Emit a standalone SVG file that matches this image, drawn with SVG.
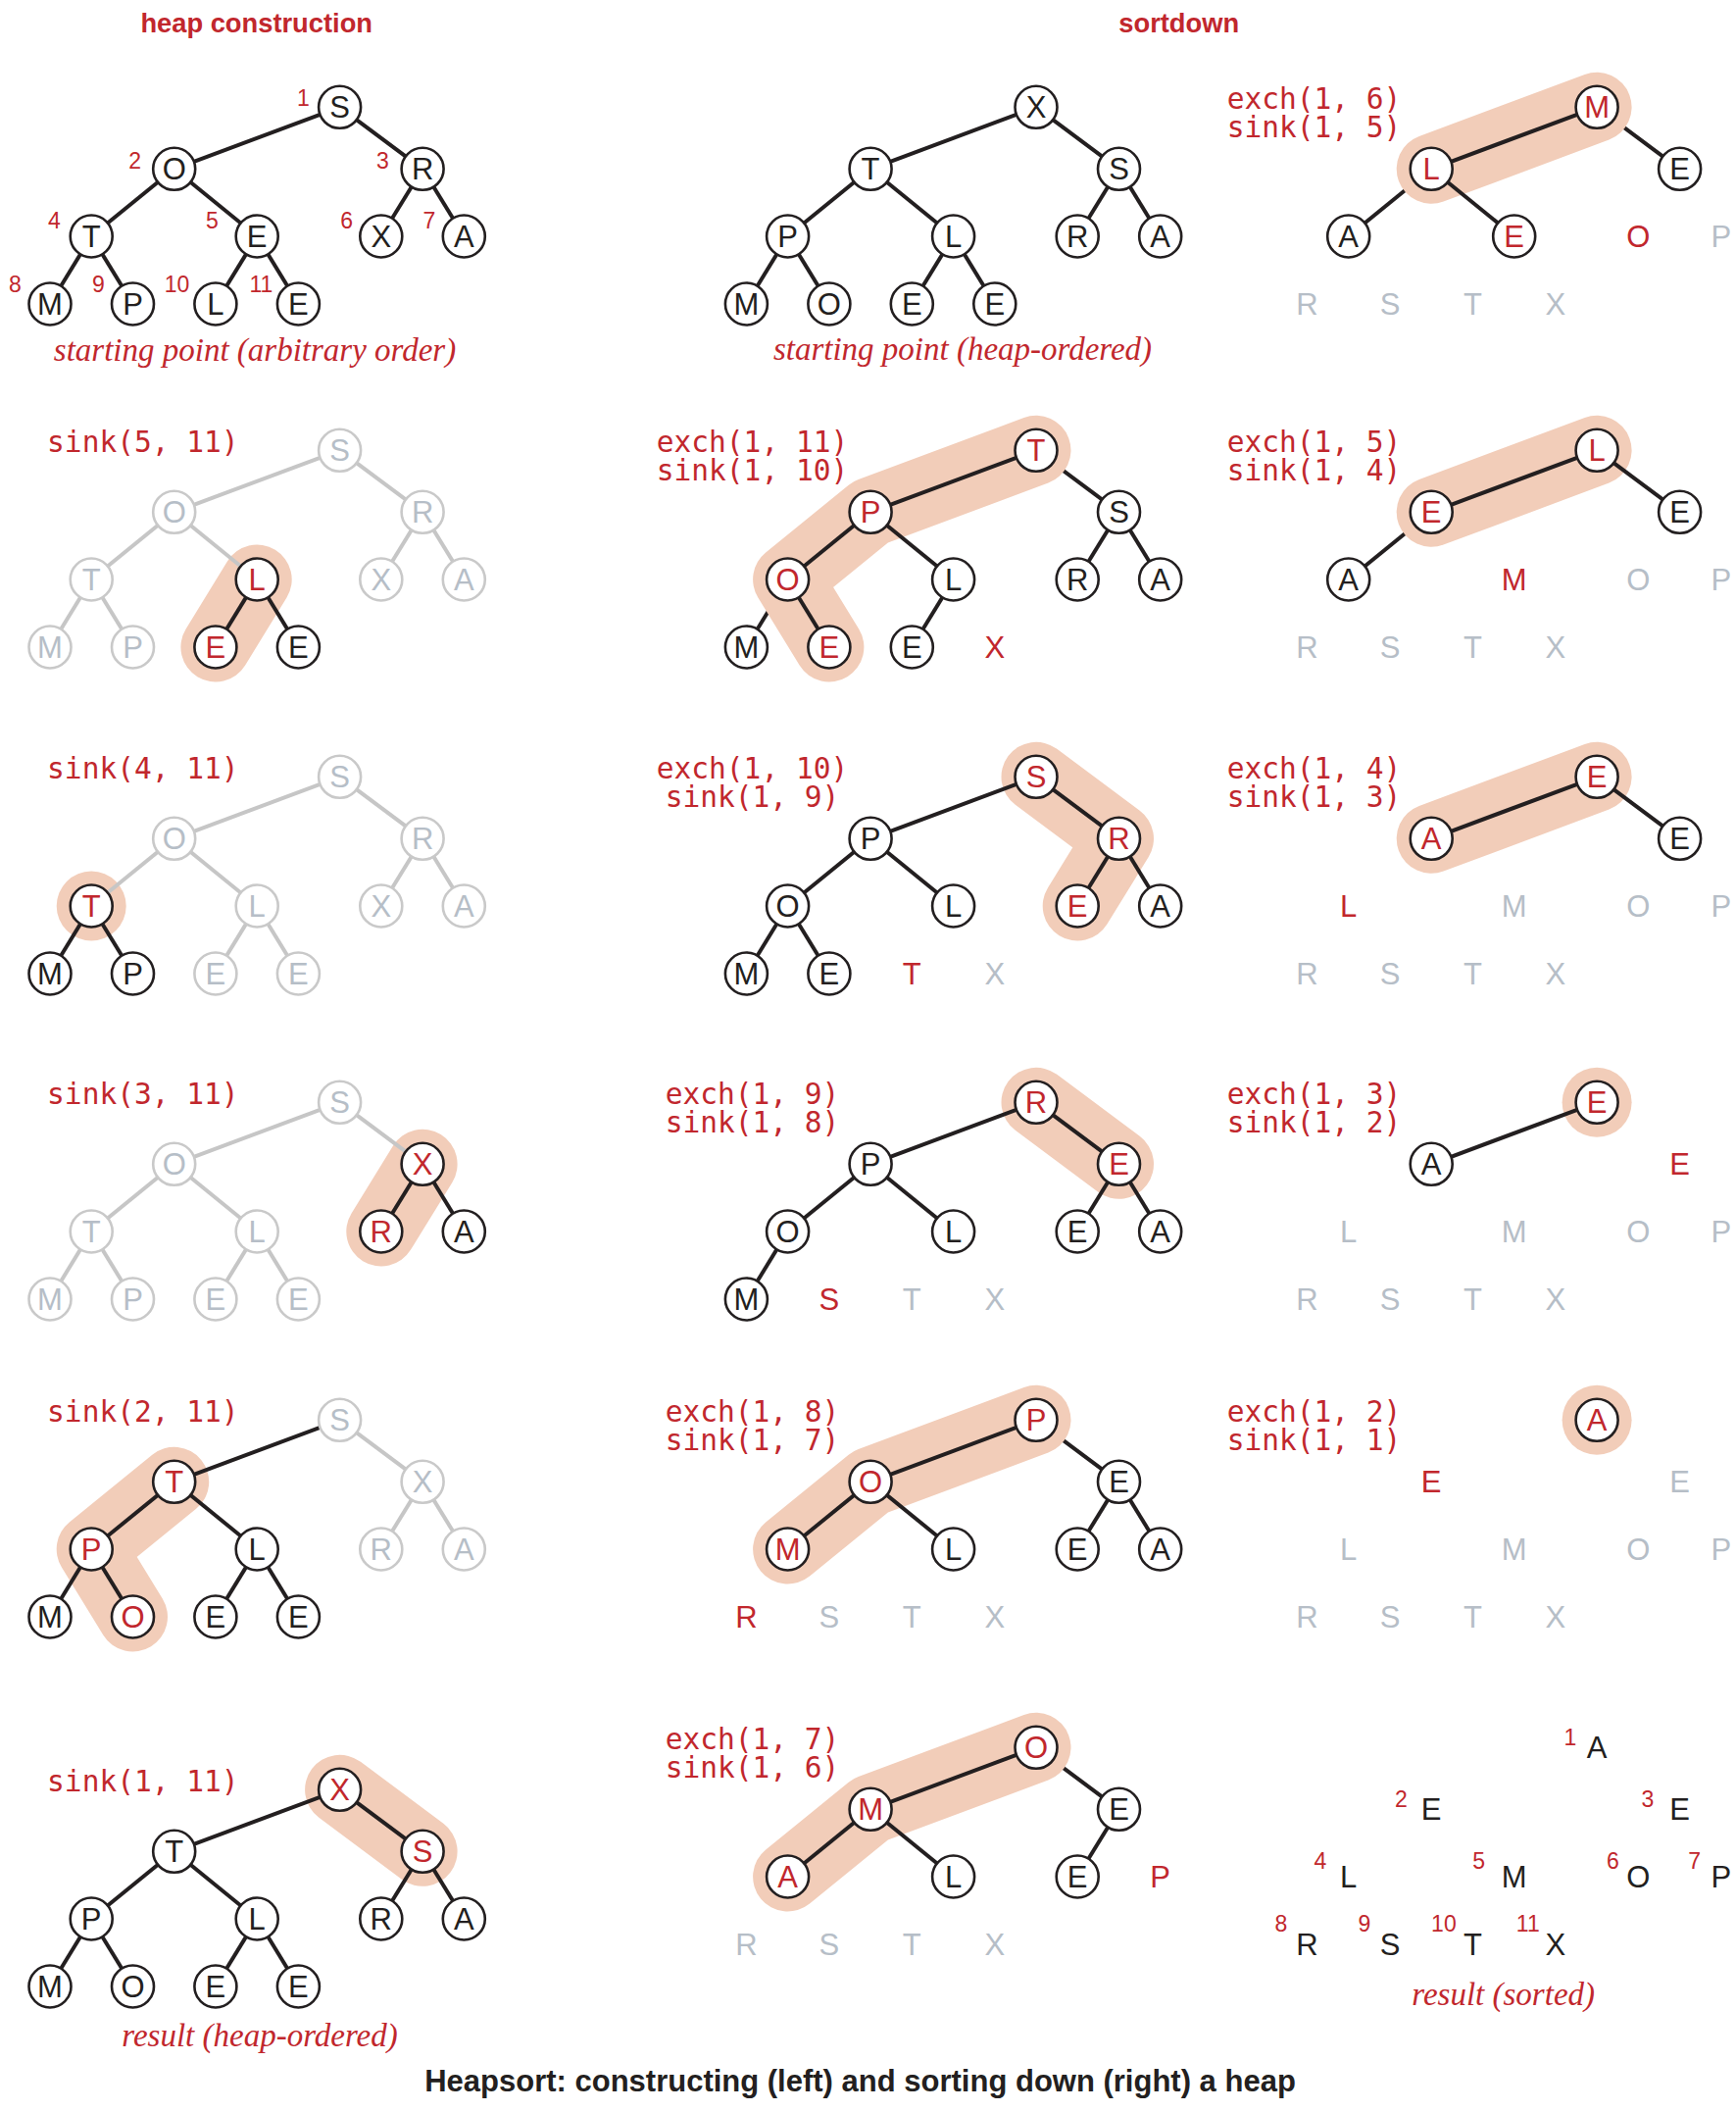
<svg xmlns="http://www.w3.org/2000/svg" width="1771" height="2153" viewBox="0 0 1771 2153">
<style>
.e{stroke:#231f20;stroke-width:4}
.eg{stroke:#c6c6c6;stroke-width:4}
.c{fill:#fff;stroke:#231f20;stroke-width:2.6}
.cg{fill:#fff;stroke:#c9c9c9;stroke-width:2.6}
.t{font-family:"Liberation Sans",Arial,sans-serif;font-size:31px;text-anchor:middle}
.k{fill:#231f20}
.r{fill:#c1272d}
.g{fill:#b6bec7}
.hl{fill:none;stroke:#f2cdb9;stroke-width:71;stroke-linecap:round;stroke-linejoin:round}
.hd{fill:#f2cdb9}
.num{font-family:"Liberation Sans",Arial,sans-serif;font-size:23px;fill:#c1272d;text-anchor:end}
.code{font-family:"DejaVu Sans Mono","Liberation Mono",monospace;font-size:29.5px;fill:#c1272d;text-anchor:middle}
.cap{font-family:"Liberation Serif","Times New Roman",serif;font-style:italic;font-size:33px;fill:#c1272d;text-anchor:middle}
.head{font-family:"Liberation Sans",Arial,sans-serif;font-weight:bold;font-size:27.3px;fill:#c1272d;text-anchor:middle}
.title{font-family:"Liberation Sans",Arial,sans-serif;font-weight:bold;font-size:31px;fill:#231f20;text-anchor:middle}
</style>
<rect width="1771" height="2153" fill="#fff"/>

<g id="labels">
<text class="head" x="261.7" y="33.3">heap construction</text>
<text class="head" x="1202.7" y="33.3">sortdown</text>
<text class="cap" x="260" y="368">starting point (arbitrary order)</text>
<text class="cap" x="982" y="367">starting point (heap-ordered)</text>
<text class="cap" x="265" y="2087">result (heap-ordered)</text>
<text class="cap" x="1533.7" y="2045">result (sorted)</text>
<text class="title" x="877.5" y="2133.3">Heapsort: constructing (left) and sorting down (right) a heap</text>
<text class="code" x="145.8" y="460.6">sink(5, 11)</text>
<text class="code" x="145.8" y="793.6">sink(4, 11)</text>
<text class="code" x="145.8" y="1125.6">sink(3, 11)</text>
<text class="code" x="145.8" y="1449.6">sink(2, 11)</text>
<text class="code" x="145.8" y="1826.6">sink(1, 11)</text>
<text class="code" x="767.5" y="460.6">exch(1, 11)</text>
<text class="code" x="767.5" y="490.1">sink(1, 10)</text>
<text class="code" x="767.5" y="793.6">exch(1, 10)</text>
<text class="code" x="767.5" y="823.1">sink(1, 9)</text>
<text class="code" x="767.5" y="1125.6">exch(1, 9)</text>
<text class="code" x="767.5" y="1155.1">sink(1, 8)</text>
<text class="code" x="767.5" y="1449.6">exch(1, 8)</text>
<text class="code" x="767.5" y="1479.1">sink(1, 7)</text>
<text class="code" x="767.5" y="1783.6">exch(1, 7)</text>
<text class="code" x="767.5" y="1813.1">sink(1, 6)</text>
<text class="code" x="1340.5" y="110.6">exch(1, 6)</text>
<text class="code" x="1340.5" y="140.1">sink(1, 5)</text>
<text class="code" x="1340.5" y="460.6">exch(1, 5)</text>
<text class="code" x="1340.5" y="490.1">sink(1, 4)</text>
<text class="code" x="1340.5" y="793.6">exch(1, 4)</text>
<text class="code" x="1340.5" y="823.1">sink(1, 3)</text>
<text class="code" x="1340.5" y="1125.6">exch(1, 3)</text>
<text class="code" x="1340.5" y="1155.1">sink(1, 2)</text>
<text class="code" x="1340.5" y="1449.6">exch(1, 2)</text>
<text class="code" x="1340.5" y="1479.1">sink(1, 1)</text>
</g>

<!-- LEFT ROW 1 -->
<g id="L1" transform="translate(51,109.3)">
<g id="L1-edges">
<line class="e" x1="295.6" y1="0" x2="126.7" y2="63"/>
<line class="e" x1="295.6" y1="0" x2="380.1" y2="63"/>
<line class="e" x1="126.7" y1="63" x2="42.2" y2="131.7"/>
<line class="e" x1="126.7" y1="63" x2="211.2" y2="131.7"/>
<line class="e" x1="380.1" y1="63" x2="337.8" y2="131.7"/>
<line class="e" x1="380.1" y1="63" x2="422.3" y2="131.7"/>
<line class="e" x1="42.2" y1="131.7" x2="0" y2="200.7"/>
<line class="e" x1="42.2" y1="131.7" x2="84.5" y2="200.7"/>
<line class="e" x1="211.2" y1="131.7" x2="168.9" y2="200.7"/>
<line class="e" x1="211.2" y1="131.7" x2="253.4" y2="200.7"/>
</g>
<g id="L1-n1"><circle class="c" cx="295.6" cy="0" r="21.5"/><text class="t k" x="295.6" y="11">S</text></g>
<g id="L1-n2"><circle class="c" cx="126.7" cy="63" r="21.5"/><text class="t k" x="126.7" y="74">O</text></g>
<g id="L1-n3"><circle class="c" cx="380.1" cy="63" r="21.5"/><text class="t k" x="380.1" y="74">R</text></g>
<g id="L1-n4"><circle class="c" cx="42.2" cy="131.7" r="21.5"/><text class="t k" x="42.2" y="142.7">T</text></g>
<g id="L1-n5"><circle class="c" cx="211.2" cy="131.7" r="21.5"/><text class="t k" x="211.2" y="142.7">E</text></g>
<g id="L1-n6"><circle class="c" cx="337.8" cy="131.7" r="21.5"/><text class="t k" x="337.8" y="142.7">X</text></g>
<g id="L1-n7"><circle class="c" cx="422.3" cy="131.7" r="21.5"/><text class="t k" x="422.3" y="142.7">A</text></g>
<g id="L1-n8"><circle class="c" cx="0" cy="200.7" r="21.5"/><text class="t k" x="0" y="211.7">M</text></g>
<g id="L1-n9"><circle class="c" cx="84.5" cy="200.7" r="21.5"/><text class="t k" x="84.5" y="211.7">P</text></g>
<g id="L1-n10"><circle class="c" cx="168.9" cy="200.7" r="21.5"/><text class="t k" x="168.9" y="211.7">L</text></g>
<g id="L1-n11"><circle class="c" cx="253.4" cy="200.7" r="21.5"/><text class="t k" x="253.4" y="211.7">E</text></g>
<g id="L1-idx">
<text class="num" x="264.7" y="-1">1</text>
<text class="num" x="93" y="62.4">2</text>
<text class="num" x="345.7" y="62.4">3</text>
<text class="num" x="10.7" y="124">4</text>
<text class="num" x="171.7" y="124">5</text>
<text class="num" x="309" y="124">6</text>
<text class="num" x="393.3" y="124">7</text>
<text class="num" x="-29.3" y="189">8</text>
<text class="num" x="55.7" y="189">9</text>
<text class="num" x="142.3" y="189">10</text>
<text class="num" x="227.3" y="189">11</text>
</g>
</g>

<!-- LEFT ROW 2 -->
<g id="L2" transform="translate(51,459.3)">
<path class="hl" d="M211.2,131.7 L168.9,200.7"/>
<g id="L2-edges">
<line class="eg" x1="295.6" y1="0" x2="126.7" y2="63"/>
<line class="eg" x1="295.6" y1="0" x2="380.1" y2="63"/>
<line class="eg" x1="126.7" y1="63" x2="42.2" y2="131.7"/>
<line class="eg" x1="126.7" y1="63" x2="211.2" y2="131.7"/>
<line class="eg" x1="380.1" y1="63" x2="337.8" y2="131.7"/>
<line class="eg" x1="380.1" y1="63" x2="422.3" y2="131.7"/>
<line class="eg" x1="42.2" y1="131.7" x2="0" y2="200.7"/>
<line class="eg" x1="42.2" y1="131.7" x2="84.5" y2="200.7"/>
<line class="e" x1="211.2" y1="131.7" x2="168.9" y2="200.7"/>
<line class="e" x1="211.2" y1="131.7" x2="253.4" y2="200.7"/>
</g>
<g id="L2-n1"><circle class="cg" cx="295.6" cy="0" r="21.5"/><text class="t g" x="295.6" y="11">S</text></g>
<g id="L2-n2"><circle class="cg" cx="126.7" cy="63" r="21.5"/><text class="t g" x="126.7" y="74">O</text></g>
<g id="L2-n3"><circle class="cg" cx="380.1" cy="63" r="21.5"/><text class="t g" x="380.1" y="74">R</text></g>
<g id="L2-n4"><circle class="cg" cx="42.2" cy="131.7" r="21.5"/><text class="t g" x="42.2" y="142.7">T</text></g>
<g id="L2-n5"><circle class="c" cx="211.2" cy="131.7" r="21.5"/><text class="t r" x="211.2" y="142.7">L</text></g>
<g id="L2-n6"><circle class="cg" cx="337.8" cy="131.7" r="21.5"/><text class="t g" x="337.8" y="142.7">X</text></g>
<g id="L2-n7"><circle class="cg" cx="422.3" cy="131.7" r="21.5"/><text class="t g" x="422.3" y="142.7">A</text></g>
<g id="L2-n8"><circle class="cg" cx="0" cy="200.7" r="21.5"/><text class="t g" x="0" y="211.7">M</text></g>
<g id="L2-n9"><circle class="cg" cx="84.5" cy="200.7" r="21.5"/><text class="t g" x="84.5" y="211.7">P</text></g>
<g id="L2-n10"><circle class="c" cx="168.9" cy="200.7" r="21.5"/><text class="t r" x="168.9" y="211.7">E</text></g>
<g id="L2-n11"><circle class="c" cx="253.4" cy="200.7" r="21.5"/><text class="t k" x="253.4" y="211.7">E</text></g>
</g>

<!-- LEFT ROW 3 -->
<g id="L3" transform="translate(51,792.3)">
<circle class="hd" cx="42.2" cy="131.7" r="35.5"/>
<g id="L3-edges">
<line class="eg" x1="295.6" y1="0" x2="126.7" y2="63"/>
<line class="eg" x1="295.6" y1="0" x2="380.1" y2="63"/>
<line class="eg" x1="126.7" y1="63" x2="42.2" y2="131.7"/>
<line class="eg" x1="126.7" y1="63" x2="211.2" y2="131.7"/>
<line class="eg" x1="380.1" y1="63" x2="337.8" y2="131.7"/>
<line class="eg" x1="380.1" y1="63" x2="422.3" y2="131.7"/>
<line class="e" x1="42.2" y1="131.7" x2="0" y2="200.7"/>
<line class="e" x1="42.2" y1="131.7" x2="84.5" y2="200.7"/>
<line class="eg" x1="211.2" y1="131.7" x2="168.9" y2="200.7"/>
<line class="eg" x1="211.2" y1="131.7" x2="253.4" y2="200.7"/>
</g>
<g id="L3-n1"><circle class="cg" cx="295.6" cy="0" r="21.5"/><text class="t g" x="295.6" y="11">S</text></g>
<g id="L3-n2"><circle class="cg" cx="126.7" cy="63" r="21.5"/><text class="t g" x="126.7" y="74">O</text></g>
<g id="L3-n3"><circle class="cg" cx="380.1" cy="63" r="21.5"/><text class="t g" x="380.1" y="74">R</text></g>
<g id="L3-n4"><circle class="c" cx="42.2" cy="131.7" r="21.5"/><text class="t r" x="42.2" y="142.7">T</text></g>
<g id="L3-n5"><circle class="cg" cx="211.2" cy="131.7" r="21.5"/><text class="t g" x="211.2" y="142.7">L</text></g>
<g id="L3-n6"><circle class="cg" cx="337.8" cy="131.7" r="21.5"/><text class="t g" x="337.8" y="142.7">X</text></g>
<g id="L3-n7"><circle class="cg" cx="422.3" cy="131.7" r="21.5"/><text class="t g" x="422.3" y="142.7">A</text></g>
<g id="L3-n8"><circle class="c" cx="0" cy="200.7" r="21.5"/><text class="t k" x="0" y="211.7">M</text></g>
<g id="L3-n9"><circle class="c" cx="84.5" cy="200.7" r="21.5"/><text class="t k" x="84.5" y="211.7">P</text></g>
<g id="L3-n10"><circle class="cg" cx="168.9" cy="200.7" r="21.5"/><text class="t g" x="168.9" y="211.7">E</text></g>
<g id="L3-n11"><circle class="cg" cx="253.4" cy="200.7" r="21.5"/><text class="t g" x="253.4" y="211.7">E</text></g>
</g>

<!-- LEFT ROW 4 -->
<g id="L4" transform="translate(51,1124.3)">
<path class="hl" d="M380.1,63 L337.8,131.7"/>
<g id="L4-edges">
<line class="eg" x1="295.6" y1="0" x2="126.7" y2="63"/>
<line class="eg" x1="295.6" y1="0" x2="380.1" y2="63"/>
<line class="eg" x1="126.7" y1="63" x2="42.2" y2="131.7"/>
<line class="eg" x1="126.7" y1="63" x2="211.2" y2="131.7"/>
<line class="e" x1="380.1" y1="63" x2="337.8" y2="131.7"/>
<line class="e" x1="380.1" y1="63" x2="422.3" y2="131.7"/>
<line class="eg" x1="42.2" y1="131.7" x2="0" y2="200.7"/>
<line class="eg" x1="42.2" y1="131.7" x2="84.5" y2="200.7"/>
<line class="eg" x1="211.2" y1="131.7" x2="168.9" y2="200.7"/>
<line class="eg" x1="211.2" y1="131.7" x2="253.4" y2="200.7"/>
</g>
<g id="L4-n1"><circle class="cg" cx="295.6" cy="0" r="21.5"/><text class="t g" x="295.6" y="11">S</text></g>
<g id="L4-n2"><circle class="cg" cx="126.7" cy="63" r="21.5"/><text class="t g" x="126.7" y="74">O</text></g>
<g id="L4-n3"><circle class="c" cx="380.1" cy="63" r="21.5"/><text class="t r" x="380.1" y="74">X</text></g>
<g id="L4-n4"><circle class="cg" cx="42.2" cy="131.7" r="21.5"/><text class="t g" x="42.2" y="142.7">T</text></g>
<g id="L4-n5"><circle class="cg" cx="211.2" cy="131.7" r="21.5"/><text class="t g" x="211.2" y="142.7">L</text></g>
<g id="L4-n6"><circle class="c" cx="337.8" cy="131.7" r="21.5"/><text class="t r" x="337.8" y="142.7">R</text></g>
<g id="L4-n7"><circle class="c" cx="422.3" cy="131.7" r="21.5"/><text class="t k" x="422.3" y="142.7">A</text></g>
<g id="L4-n8"><circle class="cg" cx="0" cy="200.7" r="21.5"/><text class="t g" x="0" y="211.7">M</text></g>
<g id="L4-n9"><circle class="cg" cx="84.5" cy="200.7" r="21.5"/><text class="t g" x="84.5" y="211.7">P</text></g>
<g id="L4-n10"><circle class="cg" cx="168.9" cy="200.7" r="21.5"/><text class="t g" x="168.9" y="211.7">E</text></g>
<g id="L4-n11"><circle class="cg" cx="253.4" cy="200.7" r="21.5"/><text class="t g" x="253.4" y="211.7">E</text></g>
</g>

<!-- LEFT ROW 5 -->
<g id="L5" transform="translate(51,1448.3)">
<path class="hl" d="M126.7,63 L42.2,131.7 L84.5,200.7"/>
<g id="L5-edges">
<line class="e" x1="295.6" y1="0" x2="126.7" y2="63"/>
<line class="eg" x1="295.6" y1="0" x2="380.1" y2="63"/>
<line class="e" x1="126.7" y1="63" x2="42.2" y2="131.7"/>
<line class="e" x1="126.7" y1="63" x2="211.2" y2="131.7"/>
<line class="eg" x1="380.1" y1="63" x2="337.8" y2="131.7"/>
<line class="eg" x1="380.1" y1="63" x2="422.3" y2="131.7"/>
<line class="e" x1="42.2" y1="131.7" x2="0" y2="200.7"/>
<line class="e" x1="42.2" y1="131.7" x2="84.5" y2="200.7"/>
<line class="e" x1="211.2" y1="131.7" x2="168.9" y2="200.7"/>
<line class="e" x1="211.2" y1="131.7" x2="253.4" y2="200.7"/>
</g>
<g id="L5-n1"><circle class="cg" cx="295.6" cy="0" r="21.5"/><text class="t g" x="295.6" y="11">S</text></g>
<g id="L5-n2"><circle class="c" cx="126.7" cy="63" r="21.5"/><text class="t r" x="126.7" y="74">T</text></g>
<g id="L5-n3"><circle class="cg" cx="380.1" cy="63" r="21.5"/><text class="t g" x="380.1" y="74">X</text></g>
<g id="L5-n4"><circle class="c" cx="42.2" cy="131.7" r="21.5"/><text class="t r" x="42.2" y="142.7">P</text></g>
<g id="L5-n5"><circle class="c" cx="211.2" cy="131.7" r="21.5"/><text class="t k" x="211.2" y="142.7">L</text></g>
<g id="L5-n6"><circle class="cg" cx="337.8" cy="131.7" r="21.5"/><text class="t g" x="337.8" y="142.7">R</text></g>
<g id="L5-n7"><circle class="cg" cx="422.3" cy="131.7" r="21.5"/><text class="t g" x="422.3" y="142.7">A</text></g>
<g id="L5-n8"><circle class="c" cx="0" cy="200.7" r="21.5"/><text class="t k" x="0" y="211.7">M</text></g>
<g id="L5-n9"><circle class="c" cx="84.5" cy="200.7" r="21.5"/><text class="t r" x="84.5" y="211.7">O</text></g>
<g id="L5-n10"><circle class="c" cx="168.9" cy="200.7" r="21.5"/><text class="t k" x="168.9" y="211.7">E</text></g>
<g id="L5-n11"><circle class="c" cx="253.4" cy="200.7" r="21.5"/><text class="t k" x="253.4" y="211.7">E</text></g>
</g>

<!-- LEFT ROW 6 -->
<g id="L6" transform="translate(51,1825.3)">
<path class="hl" d="M295.6,0 L380.1,63"/>
<g id="L6-edges">
<line class="e" x1="295.6" y1="0" x2="126.7" y2="63"/>
<line class="e" x1="295.6" y1="0" x2="380.1" y2="63"/>
<line class="e" x1="126.7" y1="63" x2="42.2" y2="131.7"/>
<line class="e" x1="126.7" y1="63" x2="211.2" y2="131.7"/>
<line class="e" x1="380.1" y1="63" x2="337.8" y2="131.7"/>
<line class="e" x1="380.1" y1="63" x2="422.3" y2="131.7"/>
<line class="e" x1="42.2" y1="131.7" x2="0" y2="200.7"/>
<line class="e" x1="42.2" y1="131.7" x2="84.5" y2="200.7"/>
<line class="e" x1="211.2" y1="131.7" x2="168.9" y2="200.7"/>
<line class="e" x1="211.2" y1="131.7" x2="253.4" y2="200.7"/>
</g>
<g id="L6-n1"><circle class="c" cx="295.6" cy="0" r="21.5"/><text class="t r" x="295.6" y="11">X</text></g>
<g id="L6-n2"><circle class="c" cx="126.7" cy="63" r="21.5"/><text class="t k" x="126.7" y="74">T</text></g>
<g id="L6-n3"><circle class="c" cx="380.1" cy="63" r="21.5"/><text class="t r" x="380.1" y="74">S</text></g>
<g id="L6-n4"><circle class="c" cx="42.2" cy="131.7" r="21.5"/><text class="t k" x="42.2" y="142.7">P</text></g>
<g id="L6-n5"><circle class="c" cx="211.2" cy="131.7" r="21.5"/><text class="t k" x="211.2" y="142.7">L</text></g>
<g id="L6-n6"><circle class="c" cx="337.8" cy="131.7" r="21.5"/><text class="t k" x="337.8" y="142.7">R</text></g>
<g id="L6-n7"><circle class="c" cx="422.3" cy="131.7" r="21.5"/><text class="t k" x="422.3" y="142.7">A</text></g>
<g id="L6-n8"><circle class="c" cx="0" cy="200.7" r="21.5"/><text class="t k" x="0" y="211.7">M</text></g>
<g id="L6-n9"><circle class="c" cx="84.5" cy="200.7" r="21.5"/><text class="t k" x="84.5" y="211.7">O</text></g>
<g id="L6-n10"><circle class="c" cx="168.9" cy="200.7" r="21.5"/><text class="t k" x="168.9" y="211.7">E</text></g>
<g id="L6-n11"><circle class="c" cx="253.4" cy="200.7" r="21.5"/><text class="t k" x="253.4" y="211.7">E</text></g>
</g>

<!-- MIDDLE ROW 1 -->
<g id="M1" transform="translate(761.4,109.3)">
<g id="M1-edges">
<line class="e" x1="295.6" y1="0" x2="126.7" y2="63"/>
<line class="e" x1="295.6" y1="0" x2="380.1" y2="63"/>
<line class="e" x1="126.7" y1="63" x2="42.2" y2="131.7"/>
<line class="e" x1="126.7" y1="63" x2="211.2" y2="131.7"/>
<line class="e" x1="380.1" y1="63" x2="337.8" y2="131.7"/>
<line class="e" x1="380.1" y1="63" x2="422.3" y2="131.7"/>
<line class="e" x1="42.2" y1="131.7" x2="0" y2="200.7"/>
<line class="e" x1="42.2" y1="131.7" x2="84.5" y2="200.7"/>
<line class="e" x1="211.2" y1="131.7" x2="168.9" y2="200.7"/>
<line class="e" x1="211.2" y1="131.7" x2="253.4" y2="200.7"/>
</g>
<g id="M1-n1"><circle class="c" cx="295.6" cy="0" r="21.5"/><text class="t k" x="295.6" y="11">X</text></g>
<g id="M1-n2"><circle class="c" cx="126.7" cy="63" r="21.5"/><text class="t k" x="126.7" y="74">T</text></g>
<g id="M1-n3"><circle class="c" cx="380.1" cy="63" r="21.5"/><text class="t k" x="380.1" y="74">S</text></g>
<g id="M1-n4"><circle class="c" cx="42.2" cy="131.7" r="21.5"/><text class="t k" x="42.2" y="142.7">P</text></g>
<g id="M1-n5"><circle class="c" cx="211.2" cy="131.7" r="21.5"/><text class="t k" x="211.2" y="142.7">L</text></g>
<g id="M1-n6"><circle class="c" cx="337.8" cy="131.7" r="21.5"/><text class="t k" x="337.8" y="142.7">R</text></g>
<g id="M1-n7"><circle class="c" cx="422.3" cy="131.7" r="21.5"/><text class="t k" x="422.3" y="142.7">A</text></g>
<g id="M1-n8"><circle class="c" cx="0" cy="200.7" r="21.5"/><text class="t k" x="0" y="211.7">M</text></g>
<g id="M1-n9"><circle class="c" cx="84.5" cy="200.7" r="21.5"/><text class="t k" x="84.5" y="211.7">O</text></g>
<g id="M1-n10"><circle class="c" cx="168.9" cy="200.7" r="21.5"/><text class="t k" x="168.9" y="211.7">E</text></g>
<g id="M1-n11"><circle class="c" cx="253.4" cy="200.7" r="21.5"/><text class="t k" x="253.4" y="211.7">E</text></g>
</g>

<!-- MIDDLE ROW 2 -->
<g id="M2" transform="translate(761.4,459.3)">
<g id="M2-edges">
<line class="e" x1="295.6" y1="0" x2="380.1" y2="63"/>
<line class="e" x1="380.1" y1="63" x2="337.8" y2="131.7"/>
<line class="e" x1="380.1" y1="63" x2="422.3" y2="131.7"/>
<line class="e" x1="42.2" y1="131.7" x2="0" y2="200.7"/>
<line class="e" x1="211.2" y1="131.7" x2="168.9" y2="200.7"/>
<path class="hl" d="M295.6,0 L126.7,63 L42.2,131.7 L84.5,200.7"/>
<line class="e" x1="295.6" y1="0" x2="126.7" y2="63"/>
<line class="e" x1="126.7" y1="63" x2="42.2" y2="131.7"/>
<line class="e" x1="126.7" y1="63" x2="211.2" y2="131.7"/>
<line class="e" x1="42.2" y1="131.7" x2="84.5" y2="200.7"/>
</g>
<g id="M2-n1"><circle class="c" cx="295.6" cy="0" r="21.5"/><text class="t r" x="295.6" y="11">T</text></g>
<g id="M2-n2"><circle class="c" cx="126.7" cy="63" r="21.5"/><text class="t r" x="126.7" y="74">P</text></g>
<g id="M2-n3"><circle class="c" cx="380.1" cy="63" r="21.5"/><text class="t k" x="380.1" y="74">S</text></g>
<g id="M2-n4"><circle class="c" cx="42.2" cy="131.7" r="21.5"/><text class="t r" x="42.2" y="142.7">O</text></g>
<g id="M2-n5"><circle class="c" cx="211.2" cy="131.7" r="21.5"/><text class="t k" x="211.2" y="142.7">L</text></g>
<g id="M2-n6"><circle class="c" cx="337.8" cy="131.7" r="21.5"/><text class="t k" x="337.8" y="142.7">R</text></g>
<g id="M2-n7"><circle class="c" cx="422.3" cy="131.7" r="21.5"/><text class="t k" x="422.3" y="142.7">A</text></g>
<g id="M2-n8"><circle class="c" cx="0" cy="200.7" r="21.5"/><text class="t k" x="0" y="211.7">M</text></g>
<g id="M2-n9"><circle class="c" cx="84.5" cy="200.7" r="21.5"/><text class="t r" x="84.5" y="211.7">E</text></g>
<g id="M2-n10"><circle class="c" cx="168.9" cy="200.7" r="21.5"/><text class="t k" x="168.9" y="211.7">E</text></g>
<g id="M2-n11"><text class="t r" x="253.4" y="211.7">X</text></g>
</g>

<!-- MIDDLE ROW 3 -->
<g id="M3" transform="translate(761.4,792.3)">
<g id="M3-edges">
<line class="e" x1="126.7" y1="63" x2="42.2" y2="131.7"/>
<line class="e" x1="126.7" y1="63" x2="211.2" y2="131.7"/>
<line class="e" x1="42.2" y1="131.7" x2="0" y2="200.7"/>
<line class="e" x1="42.2" y1="131.7" x2="84.5" y2="200.7"/>
<path class="hl" d="M295.6,0 L380.1,63 L337.8,131.7"/>
<line class="e" x1="295.6" y1="0" x2="126.7" y2="63"/>
<line class="e" x1="295.6" y1="0" x2="380.1" y2="63"/>
<line class="e" x1="380.1" y1="63" x2="337.8" y2="131.7"/>
<line class="e" x1="380.1" y1="63" x2="422.3" y2="131.7"/>
</g>
<g id="M3-n1"><circle class="c" cx="295.6" cy="0" r="21.5"/><text class="t r" x="295.6" y="11">S</text></g>
<g id="M3-n2"><circle class="c" cx="126.7" cy="63" r="21.5"/><text class="t k" x="126.7" y="74">P</text></g>
<g id="M3-n3"><circle class="c" cx="380.1" cy="63" r="21.5"/><text class="t r" x="380.1" y="74">R</text></g>
<g id="M3-n4"><circle class="c" cx="42.2" cy="131.7" r="21.5"/><text class="t k" x="42.2" y="142.7">O</text></g>
<g id="M3-n5"><circle class="c" cx="211.2" cy="131.7" r="21.5"/><text class="t k" x="211.2" y="142.7">L</text></g>
<g id="M3-n6"><circle class="c" cx="337.8" cy="131.7" r="21.5"/><text class="t r" x="337.8" y="142.7">E</text></g>
<g id="M3-n7"><circle class="c" cx="422.3" cy="131.7" r="21.5"/><text class="t k" x="422.3" y="142.7">A</text></g>
<g id="M3-n8"><circle class="c" cx="0" cy="200.7" r="21.5"/><text class="t k" x="0" y="211.7">M</text></g>
<g id="M3-n9"><circle class="c" cx="84.5" cy="200.7" r="21.5"/><text class="t k" x="84.5" y="211.7">E</text></g>
<g id="M3-n10"><text class="t r" x="168.9" y="211.7">T</text></g>
<g id="M3-n11"><text class="t g" x="253.4" y="211.7">X</text></g>
</g>

<!-- MIDDLE ROW 4 -->
<g id="M4" transform="translate(761.4,1124.3)">
<g id="M4-edges">
<line class="e" x1="126.7" y1="63" x2="42.2" y2="131.7"/>
<line class="e" x1="126.7" y1="63" x2="211.2" y2="131.7"/>
<line class="e" x1="42.2" y1="131.7" x2="0" y2="200.7"/>
<path class="hl" d="M295.6,0 L380.1,63"/>
<line class="e" x1="295.6" y1="0" x2="126.7" y2="63"/>
<line class="e" x1="295.6" y1="0" x2="380.1" y2="63"/>
<line class="e" x1="380.1" y1="63" x2="337.8" y2="131.7"/>
<line class="e" x1="380.1" y1="63" x2="422.3" y2="131.7"/>
</g>
<g id="M4-n1"><circle class="c" cx="295.6" cy="0" r="21.5"/><text class="t r" x="295.6" y="11">R</text></g>
<g id="M4-n2"><circle class="c" cx="126.7" cy="63" r="21.5"/><text class="t k" x="126.7" y="74">P</text></g>
<g id="M4-n3"><circle class="c" cx="380.1" cy="63" r="21.5"/><text class="t r" x="380.1" y="74">E</text></g>
<g id="M4-n4"><circle class="c" cx="42.2" cy="131.7" r="21.5"/><text class="t k" x="42.2" y="142.7">O</text></g>
<g id="M4-n5"><circle class="c" cx="211.2" cy="131.7" r="21.5"/><text class="t k" x="211.2" y="142.7">L</text></g>
<g id="M4-n6"><circle class="c" cx="337.8" cy="131.7" r="21.5"/><text class="t k" x="337.8" y="142.7">E</text></g>
<g id="M4-n7"><circle class="c" cx="422.3" cy="131.7" r="21.5"/><text class="t k" x="422.3" y="142.7">A</text></g>
<g id="M4-n8"><circle class="c" cx="0" cy="200.7" r="21.5"/><text class="t k" x="0" y="211.7">M</text></g>
<g id="M4-n9"><text class="t r" x="84.5" y="211.7">S</text></g>
<g id="M4-n10"><text class="t g" x="168.9" y="211.7">T</text></g>
<g id="M4-n11"><text class="t g" x="253.4" y="211.7">X</text></g>
</g>

<!-- MIDDLE ROW 5 -->
<g id="M5" transform="translate(761.4,1448.3)">
<g id="M5-edges">
<line class="e" x1="295.6" y1="0" x2="380.1" y2="63"/>
<line class="e" x1="380.1" y1="63" x2="337.8" y2="131.7"/>
<line class="e" x1="380.1" y1="63" x2="422.3" y2="131.7"/>
<path class="hl" d="M295.6,0 L126.7,63 L42.2,131.7"/>
<line class="e" x1="295.6" y1="0" x2="126.7" y2="63"/>
<line class="e" x1="126.7" y1="63" x2="42.2" y2="131.7"/>
<line class="e" x1="126.7" y1="63" x2="211.2" y2="131.7"/>
</g>
<g id="M5-n1"><circle class="c" cx="295.6" cy="0" r="21.5"/><text class="t r" x="295.6" y="11">P</text></g>
<g id="M5-n2"><circle class="c" cx="126.7" cy="63" r="21.5"/><text class="t r" x="126.7" y="74">O</text></g>
<g id="M5-n3"><circle class="c" cx="380.1" cy="63" r="21.5"/><text class="t k" x="380.1" y="74">E</text></g>
<g id="M5-n4"><circle class="c" cx="42.2" cy="131.7" r="21.5"/><text class="t r" x="42.2" y="142.7">M</text></g>
<g id="M5-n5"><circle class="c" cx="211.2" cy="131.7" r="21.5"/><text class="t k" x="211.2" y="142.7">L</text></g>
<g id="M5-n6"><circle class="c" cx="337.8" cy="131.7" r="21.5"/><text class="t k" x="337.8" y="142.7">E</text></g>
<g id="M5-n7"><circle class="c" cx="422.3" cy="131.7" r="21.5"/><text class="t k" x="422.3" y="142.7">A</text></g>
<g id="M5-n8"><text class="t r" x="0" y="211.7">R</text></g>
<g id="M5-n9"><text class="t g" x="84.5" y="211.7">S</text></g>
<g id="M5-n10"><text class="t g" x="168.9" y="211.7">T</text></g>
<g id="M5-n11"><text class="t g" x="253.4" y="211.7">X</text></g>
</g>

<!-- MIDDLE ROW 6 -->
<g id="M6" transform="translate(761.4,1782.3)">
<g id="M6-edges">
<line class="e" x1="295.6" y1="0" x2="380.1" y2="63"/>
<line class="e" x1="380.1" y1="63" x2="337.8" y2="131.7"/>
<path class="hl" d="M295.6,0 L126.7,63 L42.2,131.7"/>
<line class="e" x1="295.6" y1="0" x2="126.7" y2="63"/>
<line class="e" x1="126.7" y1="63" x2="42.2" y2="131.7"/>
<line class="e" x1="126.7" y1="63" x2="211.2" y2="131.7"/>
</g>
<g id="M6-n1"><circle class="c" cx="295.6" cy="0" r="21.5"/><text class="t r" x="295.6" y="11">O</text></g>
<g id="M6-n2"><circle class="c" cx="126.7" cy="63" r="21.5"/><text class="t r" x="126.7" y="74">M</text></g>
<g id="M6-n3"><circle class="c" cx="380.1" cy="63" r="21.5"/><text class="t k" x="380.1" y="74">E</text></g>
<g id="M6-n4"><circle class="c" cx="42.2" cy="131.7" r="21.5"/><text class="t r" x="42.2" y="142.7">A</text></g>
<g id="M6-n5"><circle class="c" cx="211.2" cy="131.7" r="21.5"/><text class="t k" x="211.2" y="142.7">L</text></g>
<g id="M6-n6"><circle class="c" cx="337.8" cy="131.7" r="21.5"/><text class="t k" x="337.8" y="142.7">E</text></g>
<g id="M6-n7"><text class="t r" x="422.3" y="142.7">P</text></g>
<g id="M6-n8"><text class="t g" x="0" y="211.7">R</text></g>
<g id="M6-n9"><text class="t g" x="84.5" y="211.7">S</text></g>
<g id="M6-n10"><text class="t g" x="168.9" y="211.7">T</text></g>
<g id="M6-n11"><text class="t g" x="253.4" y="211.7">X</text></g>
</g>

<!-- RIGHT ROW 1 -->
<g id="R1" transform="translate(1333.5,109.3)">
<g id="R1-edges">
<line class="e" x1="295.6" y1="0" x2="380.1" y2="63"/>
<line class="e" x1="126.7" y1="63" x2="42.2" y2="131.7"/>
<path class="hl" d="M295.6,0 L126.7,63"/>
<line class="e" x1="295.6" y1="0" x2="126.7" y2="63"/>
<line class="e" x1="126.7" y1="63" x2="211.2" y2="131.7"/>
</g>
<g id="R1-n1"><circle class="c" cx="295.6" cy="0" r="21.5"/><text class="t r" x="295.6" y="11">M</text></g>
<g id="R1-n2"><circle class="c" cx="126.7" cy="63" r="21.5"/><text class="t r" x="126.7" y="74">L</text></g>
<g id="R1-n3"><circle class="c" cx="380.1" cy="63" r="21.5"/><text class="t k" x="380.1" y="74">E</text></g>
<g id="R1-n4"><circle class="c" cx="42.2" cy="131.7" r="21.5"/><text class="t k" x="42.2" y="142.7">A</text></g>
<g id="R1-n5"><circle class="c" cx="211.2" cy="131.7" r="21.5"/><text class="t r" x="211.2" y="142.7">E</text></g>
<g id="R1-n6"><text class="t r" x="337.8" y="142.7">O</text></g>
<g id="R1-n7"><text class="t g" x="422.3" y="142.7">P</text></g>
<g id="R1-n8"><text class="t g" x="0" y="211.7">R</text></g>
<g id="R1-n9"><text class="t g" x="84.5" y="211.7">S</text></g>
<g id="R1-n10"><text class="t g" x="168.9" y="211.7">T</text></g>
<g id="R1-n11"><text class="t g" x="253.4" y="211.7">X</text></g>
</g>

<!-- RIGHT ROW 2 -->
<g id="R2" transform="translate(1333.5,459.3)">
<g id="R2-edges">
<line class="e" x1="126.7" y1="63" x2="42.2" y2="131.7"/>
<path class="hl" d="M295.6,0 L126.7,63"/>
<line class="e" x1="295.6" y1="0" x2="126.7" y2="63"/>
<line class="e" x1="295.6" y1="0" x2="380.1" y2="63"/>
</g>
<g id="R2-n1"><circle class="c" cx="295.6" cy="0" r="21.5"/><text class="t r" x="295.6" y="11">L</text></g>
<g id="R2-n2"><circle class="c" cx="126.7" cy="63" r="21.5"/><text class="t r" x="126.7" y="74">E</text></g>
<g id="R2-n3"><circle class="c" cx="380.1" cy="63" r="21.5"/><text class="t k" x="380.1" y="74">E</text></g>
<g id="R2-n4"><circle class="c" cx="42.2" cy="131.7" r="21.5"/><text class="t k" x="42.2" y="142.7">A</text></g>
<g id="R2-n5"><text class="t r" x="211.2" y="142.7">M</text></g>
<g id="R2-n6"><text class="t g" x="337.8" y="142.7">O</text></g>
<g id="R2-n7"><text class="t g" x="422.3" y="142.7">P</text></g>
<g id="R2-n8"><text class="t g" x="0" y="211.7">R</text></g>
<g id="R2-n9"><text class="t g" x="84.5" y="211.7">S</text></g>
<g id="R2-n10"><text class="t g" x="168.9" y="211.7">T</text></g>
<g id="R2-n11"><text class="t g" x="253.4" y="211.7">X</text></g>
</g>

<!-- RIGHT ROW 3 -->
<g id="R3" transform="translate(1333.5,792.3)">
<g id="R3-edges">
<path class="hl" d="M295.6,0 L126.7,63"/>
<line class="e" x1="295.6" y1="0" x2="126.7" y2="63"/>
<line class="e" x1="295.6" y1="0" x2="380.1" y2="63"/>
</g>
<g id="R3-n1"><circle class="c" cx="295.6" cy="0" r="21.5"/><text class="t r" x="295.6" y="11">E</text></g>
<g id="R3-n2"><circle class="c" cx="126.7" cy="63" r="21.5"/><text class="t r" x="126.7" y="74">A</text></g>
<g id="R3-n3"><circle class="c" cx="380.1" cy="63" r="21.5"/><text class="t k" x="380.1" y="74">E</text></g>
<g id="R3-n4"><text class="t r" x="42.2" y="142.7">L</text></g>
<g id="R3-n5"><text class="t g" x="211.2" y="142.7">M</text></g>
<g id="R3-n6"><text class="t g" x="337.8" y="142.7">O</text></g>
<g id="R3-n7"><text class="t g" x="422.3" y="142.7">P</text></g>
<g id="R3-n8"><text class="t g" x="0" y="211.7">R</text></g>
<g id="R3-n9"><text class="t g" x="84.5" y="211.7">S</text></g>
<g id="R3-n10"><text class="t g" x="168.9" y="211.7">T</text></g>
<g id="R3-n11"><text class="t g" x="253.4" y="211.7">X</text></g>
</g>

<!-- RIGHT ROW 4 -->
<g id="R4" transform="translate(1333.5,1124.3)">
<circle class="hd" cx="295.6" cy="0" r="35.5"/>
<g id="R4-edges">
<line class="e" x1="295.6" y1="0" x2="126.7" y2="63"/>
</g>
<g id="R4-n1"><circle class="c" cx="295.6" cy="0" r="21.5"/><text class="t r" x="295.6" y="11">E</text></g>
<g id="R4-n2"><circle class="c" cx="126.7" cy="63" r="21.5"/><text class="t k" x="126.7" y="74">A</text></g>
<g id="R4-n3"><text class="t r" x="380.1" y="74">E</text></g>
<g id="R4-n4"><text class="t g" x="42.2" y="142.7">L</text></g>
<g id="R4-n5"><text class="t g" x="211.2" y="142.7">M</text></g>
<g id="R4-n6"><text class="t g" x="337.8" y="142.7">O</text></g>
<g id="R4-n7"><text class="t g" x="422.3" y="142.7">P</text></g>
<g id="R4-n8"><text class="t g" x="0" y="211.7">R</text></g>
<g id="R4-n9"><text class="t g" x="84.5" y="211.7">S</text></g>
<g id="R4-n10"><text class="t g" x="168.9" y="211.7">T</text></g>
<g id="R4-n11"><text class="t g" x="253.4" y="211.7">X</text></g>
</g>

<!-- RIGHT ROW 5 -->
<g id="R5" transform="translate(1333.5,1448.3)">
<circle class="hd" cx="295.6" cy="0" r="35.5"/>
<g id="R5-n1"><circle class="c" cx="295.6" cy="0" r="21.5"/><text class="t r" x="295.6" y="11">A</text></g>
<g id="R5-n2"><text class="t r" x="126.7" y="74">E</text></g>
<g id="R5-n3"><text class="t g" x="380.1" y="74">E</text></g>
<g id="R5-n4"><text class="t g" x="42.2" y="142.7">L</text></g>
<g id="R5-n5"><text class="t g" x="211.2" y="142.7">M</text></g>
<g id="R5-n6"><text class="t g" x="337.8" y="142.7">O</text></g>
<g id="R5-n7"><text class="t g" x="422.3" y="142.7">P</text></g>
<g id="R5-n8"><text class="t g" x="0" y="211.7">R</text></g>
<g id="R5-n9"><text class="t g" x="84.5" y="211.7">S</text></g>
<g id="R5-n10"><text class="t g" x="168.9" y="211.7">T</text></g>
<g id="R5-n11"><text class="t g" x="253.4" y="211.7">X</text></g>
</g>

<!-- RIGHT ROW 6 -->
<g id="R6" transform="translate(1333.5,1782.3)">
<g id="R6-n1"><text class="t k" x="295.6" y="11">A</text></g>
<g id="R6-n2"><text class="t k" x="126.7" y="74">E</text></g>
<g id="R6-n3"><text class="t k" x="380.1" y="74">E</text></g>
<g id="R6-n4"><text class="t k" x="42.2" y="142.7">L</text></g>
<g id="R6-n5"><text class="t k" x="211.2" y="142.7">M</text></g>
<g id="R6-n6"><text class="t k" x="337.8" y="142.7">O</text></g>
<g id="R6-n7"><text class="t k" x="422.3" y="142.7">P</text></g>
<g id="R6-n8"><text class="t k" x="0" y="211.7">R</text></g>
<g id="R6-n9"><text class="t k" x="84.5" y="211.7">S</text></g>
<g id="R6-n10"><text class="t k" x="168.9" y="211.7">T</text></g>
<g id="R6-n11"><text class="t k" x="253.4" y="211.7">X</text></g>
<g id="R6-idx">
<text class="num" x="274.8" y="-2.3">1</text>
<text class="num" x="102.2" y="60.4">2</text>
<text class="num" x="353.8" y="60.4">3</text>
<text class="num" x="19.8" y="123.4">4</text>
<text class="num" x="181.5" y="123.4">5</text>
<text class="num" x="318.2" y="123.4">6</text>
<text class="num" x="401.5" y="123.4">7</text>
<text class="num" x="-20.2" y="187.7">8</text>
<text class="num" x="64.8" y="187.7">9</text>
<text class="num" x="152.2" y="187.7">10</text>
<text class="num" x="237.2" y="187.7">11</text>
</g>
</g>
</svg>
